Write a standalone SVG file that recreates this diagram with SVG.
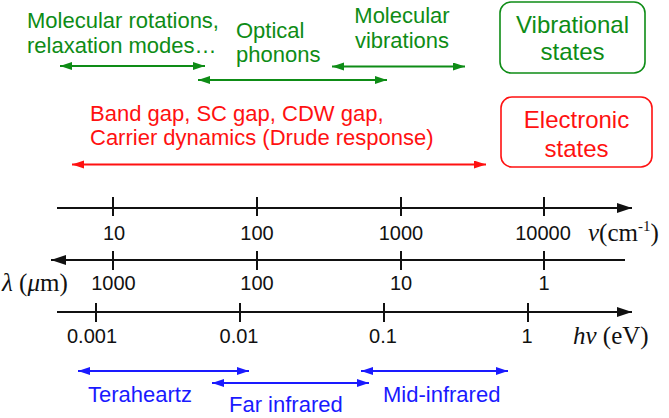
<svg xmlns="http://www.w3.org/2000/svg" width="669" height="418" viewBox="0 0 669 418">
<style>
.sans{font-family:"Liberation Sans",Arial,Helvetica,sans-serif}
.serif{font-family:"Liberation Serif","Times New Roman",serif}
.g{fill:#0e8c16}
.r{fill:#ff1111}
.b{fill:#1a1aff}
.k{fill:#111}
.ann{font-size:22px}
.box{font-size:24px;text-anchor:middle}
.num{font-family:"Liberation Sans",Arial,Helvetica,sans-serif;font-size:20px;text-anchor:middle}
.unit{font-size:25px}
.axis{stroke:#111;stroke-width:2;fill:none}
.tick{stroke:#111;stroke-width:2}
.ga{stroke:#0e8c16;stroke-width:2.2;fill:none;marker-start:url(#mg);marker-end:url(#mg)}
.ra{stroke:#ff1111;stroke-width:2.2;fill:none;marker-start:url(#mr);marker-end:url(#mr)}
.ba{stroke:#1a1aff;stroke-width:2.2;fill:none;marker-start:url(#mb);marker-end:url(#mb)}
</style>
<defs>
<marker id="mg" markerUnits="userSpaceOnUse" markerWidth="13" markerHeight="9" refX="12" refY="4" orient="auto-start-reverse"><path d="M0,0 L12,4 L0,8 z" fill="#0e8c16"/></marker>
<marker id="mr" markerUnits="userSpaceOnUse" markerWidth="13" markerHeight="9" refX="12" refY="4" orient="auto-start-reverse"><path d="M0,0 L12,4 L0,8 z" fill="#ff1111"/></marker>
<marker id="mb" markerUnits="userSpaceOnUse" markerWidth="13" markerHeight="9" refX="12" refY="4" orient="auto-start-reverse"><path d="M0,0 L12,4 L0,8 z" fill="#1a1aff"/></marker>
<marker id="mk" markerUnits="userSpaceOnUse" markerWidth="16" markerHeight="11" refX="15" refY="5" orient="auto-start-reverse"><path d="M0,0 L15,5 L0,10 z" fill="#111"/></marker>
</defs>

<g id="rotations">
<text class="sans ann g" x="27" y="28">Molecular rotations,</text>
<text class="sans ann g" x="27" y="52.5">relaxation modes…</text>
</g>
<g id="optical-phonons">
<text class="sans ann g" x="236" y="38">Optical</text>
<text class="sans ann g" x="236" y="62">phonons</text>
</g>
<g id="molecular-vibrations">
<text class="sans ann g" x="402" y="23" text-anchor="middle">Molecular</text>
<text class="sans ann g" x="402" y="48" text-anchor="middle">vibrations</text>
</g>
<g id="vibrational-states">
<rect x="500" y="2" width="145" height="71" rx="11" fill="none" stroke="#0e8c16" stroke-width="1.6"/>
<text class="sans box g" x="572.5" y="33">Vibrational</text>
<text class="sans box g" x="572.5" y="60">states</text>
</g>
<g id="electronic-text">
<text class="sans ann r" x="90" y="121">Band gap, SC gap, CDW gap,</text>
<text class="sans ann r" x="90" y="145">Carrier dynamics (Drude response)</text>
</g>
<g id="electronic-states">
<rect x="501" y="97" width="151" height="70" rx="11" fill="none" stroke="#ff1111" stroke-width="1.6"/>
<text class="sans box r" x="576.5" y="128">Electronic</text>
<text class="sans box r" x="576.5" y="157">states</text>
</g>

<g id="wavenumber-axis">
<line class="axis" x1="57" y1="208" x2="632" y2="208" marker-end="url(#mk)"/>
<line class="tick" x1="113" y1="197" x2="113" y2="216"/>
<line class="tick" x1="257" y1="197" x2="257" y2="216"/>
<line class="tick" x1="401" y1="197" x2="401" y2="216"/>
<line class="tick" x1="544" y1="197" x2="544" y2="216"/>
<text class="num k" x="114" y="240">10</text>
<text class="num k" x="257" y="240">100</text>
<text class="num k" x="401" y="240">1000</text>
<text class="num k" x="543" y="240">10000</text>
<text class="serif unit k" x="588" y="241"><tspan font-style="italic">ν</tspan>(cm<tspan font-size="15" dy="-10">-1</tspan><tspan dy="10">)</tspan></text>
</g>

<g id="wavelength-axis">
<line class="axis" x1="625" y1="260" x2="51" y2="260" marker-end="url(#mk)"/>
<line class="tick" x1="113" y1="251" x2="113" y2="270"/>
<line class="tick" x1="257" y1="251" x2="257" y2="270"/>
<line class="tick" x1="401" y1="251" x2="401" y2="270"/>
<line class="tick" x1="544" y1="251" x2="544" y2="270"/>
<text class="num k" x="113.5" y="290">1000</text>
<text class="num k" x="257" y="290">100</text>
<text class="num k" x="401" y="290">10</text>
<text class="num k" x="544" y="290">1</text>
<text class="serif unit k" x="2" y="291"><tspan font-style="italic">λ</tspan> (<tspan font-style="italic">μ</tspan>m)</text>
</g>

<g id="energy-axis">
<line class="axis" x1="57" y1="312" x2="632" y2="312" marker-end="url(#mk)"/>
<line class="tick" x1="96" y1="303" x2="96" y2="322"/>
<line class="tick" x1="240" y1="303" x2="240" y2="322"/>
<line class="tick" x1="384" y1="303" x2="384" y2="322"/>
<line class="tick" x1="528" y1="303" x2="528" y2="322"/>
<text class="num k" x="92" y="343">0.001</text>
<text class="num k" x="239" y="343">0.01</text>
<text class="num k" x="383" y="343">0.1</text>
<text class="num k" x="527" y="343">1</text>
<text class="serif unit k" x="573" y="344"><tspan font-style="italic">hν</tspan> (eV)</text>
</g>

<g id="terahertz">
<text class="sans ann b" x="88" y="402">Teraheartz</text>
</g>
<g id="far-infrared">
<text class="sans ann b" x="229" y="412">Far infrared</text>
</g>
<g id="mid-infrared">
<text class="sans ann b" x="383" y="402">Mid-infrared</text>
</g>

<g id="connectors">
<line class="ga" x1="60" y1="66" x2="205" y2="66"/>
<line class="ga" x1="198" y1="80" x2="387" y2="80"/>
<line class="ga" x1="332" y1="66.5" x2="465" y2="66.5"/>
<line class="ra" x1="72" y1="164.5" x2="486" y2="164.5"/>
<line class="ba" x1="78" y1="371" x2="249" y2="371"/>
<line class="ba" x1="212" y1="383" x2="369" y2="383"/>
<line class="ba" x1="361" y1="371" x2="508" y2="371"/>
</g>
</svg>
